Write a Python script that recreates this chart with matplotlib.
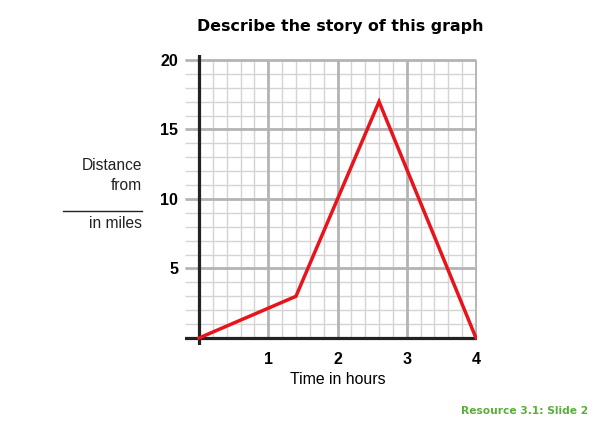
import numpy as np
import matplotlib.pyplot as plt

# journey: time (hours) vs distance (miles)
hours = [0, 1.4, 2.6, 4]
miles = [0, 3, 17, 0]

x_ticks = [1, 2, 3, 4]
y_ticks = [5, 10, 15, 20]

fig = plt.figure(figsize=(6, 4.3), dpi=100)
ax = fig.add_axes([185.15 / 600, (430 - 344.95) / 430, 292.25 / 600, 289.85 / 430])
ax.set_xlim(-0.2, 4.02)
ax.set_ylim(-0.5, 20.35)

# graph paper grid
minor_x = np.arange(0.2, 4.01, 0.2)
minor_y = np.arange(1, 20.5, 1)
ax.vlines(minor_x, 0, 20, color='#d4d4d4', lw=1, zorder=1)
ax.hlines(minor_y, -0.2, 4, color='#d4d4d4', lw=1, zorder=1)
ax.vlines(x_ticks, 0, 20, color='#b4b4b4', lw=2, zorder=2)
ax.hlines(y_ticks, -0.2, 4, color='#b4b4b4', lw=2, zorder=2)

ax.axhline(0, color='#222222', lw=2.3, zorder=3)
ax.axvline(0, color='#222222', lw=2.3, zorder=3)

ax.plot(hours, miles, color='#e8141b', lw=2.5, zorder=4, solid_joinstyle='miter')

for s in ax.spines.values():
    s.set_visible(False)
ax.set_xticks(x_ticks)
ax.set_yticks(y_ticks)
ax.tick_params(length=0, labelsize=11.5, pad=5)
for lab in ax.get_xticklabels() + ax.get_yticklabels():
    lab.set_fontweight('bold')
    lab.set_family('Liberation Sans')

fig.text(340 / 600, 1 - 27 / 430, 'Describe the story of this graph',
         ha='center', va='center', fontsize=11.4, fontweight='bold', family='DejaVu Sans')
fig.text(338 / 600, 1 - 380 / 430, 'Time in hours',
         ha='center', va='center', fontsize=11.4, family='Liberation Sans')
fig.text(142 / 600, 1 - 165 / 430, 'Distance', ha='right', va='center',
         fontsize=11.2, family='Liberation Sans', color='#222222')
fig.text(142 / 600, 1 - 185 / 430, 'from', ha='right', va='center',
         fontsize=11.2, family='Liberation Sans', color='#222222')
fig.add_artist(plt.Line2D([63 / 600, 142 / 600], [1 - 211 / 430, 1 - 211 / 430],
                          color='#222222', lw=1))
fig.text(142 / 600, 1 - 223 / 430, 'in miles', ha='right', va='center',
         fontsize=11.2, family='Liberation Sans', color='#222222')
fig.text(588 / 600, 1 - 411 / 430, 'Resource 3.1: Slide 2', ha='right', va='center',
         fontsize=7.7, fontweight='bold', color='#5aae3c', family='DejaVu Sans')

fig.savefig('out.png', dpi=100)
